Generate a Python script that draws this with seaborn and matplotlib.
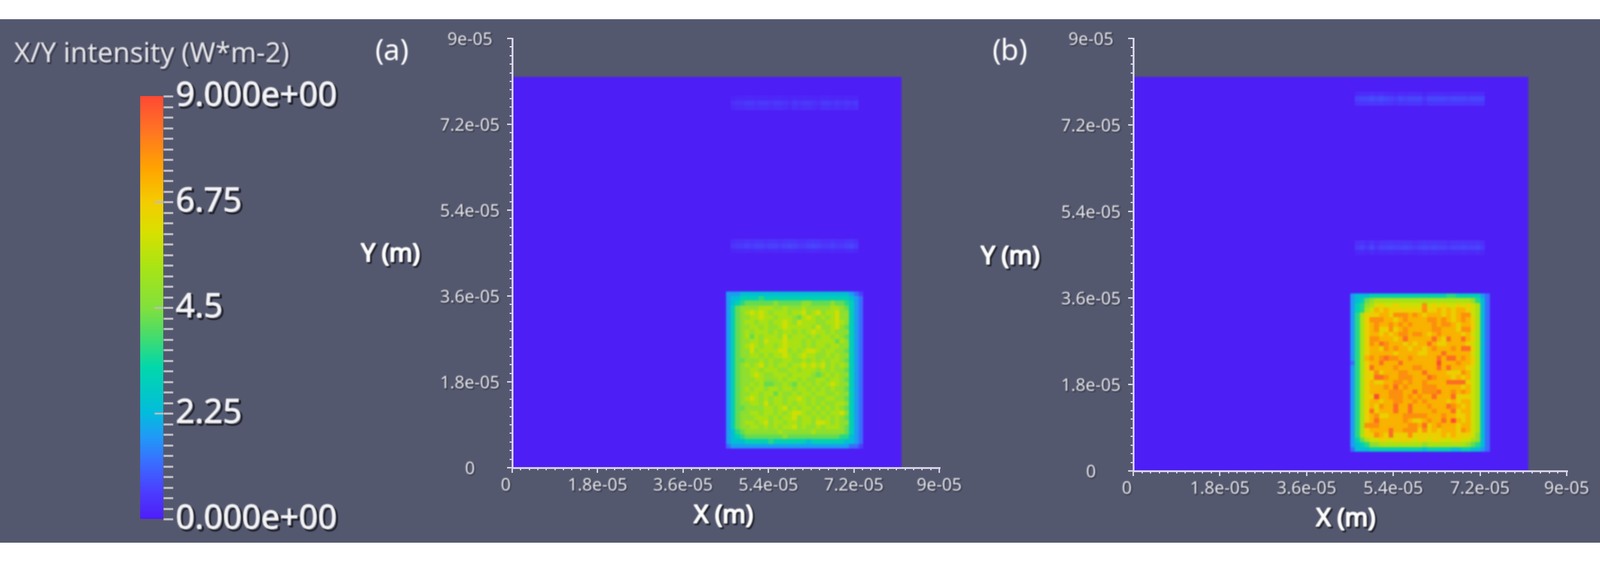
import numpy as np
import matplotlib
matplotlib.use("Agg")
import matplotlib.pyplot as plt
import matplotlib.patheffects as pe
from matplotlib.colors import LinearSegmentedColormap
from matplotlib.patches import Rectangle
from matplotlib.transforms import ScaledTranslation
import seaborn as sns

TITLE = "X/Y intensity (W*m-2)"
X_LABEL = "X (m)"
Y_LABEL = "Y (m)"
TICK_VALUES = [0, 18, 36, 54, 72, 90]
TICK_LABELS = ["0", "1.8e-05", "3.6e-05", "5.4e-05", "7.2e-05", "9e-05"]
CBAR_TICKS = [0, 2.25, 4.5, 6.75, 9]
CBAR_LABELS = ["0.000e+00", "2.25", "4.5", "6.75", "9.000e+00"]

# Hand-read cell levels of the bright block, top row first; one hex digit = 0.6 W/m2
PANEL_A_ROWS = [
    "33344 44444 44444 44444 44444 4321",
    "34455 55655 55555 55555 55555 5432",
    "34567 77777 87777 78877 77877 6532",
    "35788 88999 88988 89888 88998 7532",
    "35789 a9a98 99989 9a89a 899a8 8532",
    "35788 99a99 89998 79a98 989a8 8532",
    "35789 98998 99a98 a9998 899a9 8532",
    "35788 99898 89a99 9998a 889a8 7532",
    "35789 89998 98998 989a9 98988 8532",
    "35789 79899 98a89 99898 99898 7532",
    "35788 998a9 99a99 98989 99979 8532",
    "35789 a9899 89a99 98989 98998 8532",
    "35788 a8999 9aa89 89aa9 89988 7532",
    "35788 99898 99a98 9a998 89898 8532",
    "35778 88989 88998 89898 98998 7532",
    "35789 89a89 89989 9a9a9 a8989 8532",
    "35788 99899 98899 89998 98988 7532",
    "35788 9a988 99989 99987 89898 8532",
    "35788 89988 89899 89889 98998 7532",
    "35788 98977 88987 98989 89a98 8532",
    "35789 89989 98998 99898 98988 7532",
    "35788 99899 79889 89989 98898 8532",
    "35789 a9898 99899 a9898 89988 7532",
    "35788 998a8 99898 99898 98899 8532",
    "35778 88899 89a89 89989 89898 7532",
    "35788 99899 8989a a9898 9899a 8532",
    "35788 89998 9899a 89989 89898 7532",
    "35789 989a8 99899 8998a a9898 8532",
    "35788 99898 9899a 89889 89998 7532",
    "34678 88888 89888 88898 88888 7532",
    "34567 77777 77877 77777 77776 6432",
    "34445 55556 55555 55455 55555 4432",
    "23333 33333 33333 33333 33333 3221",
]
PANEL_B_ROWS = [
    "34445 55555 55555 55555 66555 5532",
    "34578 99999 99999 99999 99999 8642",
    "35689 abaab aaaaa dabab aabab a942",
    "3569a cbcbb bbbbb dbbcb cbccb a942",
    "369bb bccbd ddcdc bcccb cbcdd a942",
    "369bd ddccb cdccc cddcd cbcdc b942",
    "369bc dccdc dcdcc ccdcd dcbcc b942",
    "369bc dbbdb cdccc ccddc ccbdd b942",
    "369bc cbcbc ddcdd cbcdc cccbc a942",
    "369bd dcccb ceccc ccecb eccec b942",
    "369bd cedcc cbcbc cecbb ccccb a942",
    "369bc cbdcd ccbcc bcdcc cdcee b942",
    "369bc ccccb ccccb bccce ccccc a942",
    "369cd cdedd ccdcc cccec eecdc b942",
    "269bc ceccc ecccc cccfc ccdcc b942",
    "369be ccccd cccdd cccec ecccb a942",
    "369bb dbccc ddccc ecccc bbbdc a942",
    "369bb eedcc dddcc cedcc cbcbc a942",
    "369bc bbccd dcdcc dcccc eeeeb a942",
    "369bc ccdce cdccc dddcc cccbc a942",
    "369bc cccdd dccec dddec cdcdc a942",
    "369bb fccdd dcdcd ccecc cebbb a942",
    "369bc cbccd dccdc dcccc bcbcc a942",
    "369bc bdcce ccecc cdccc edcbc a942",
    "369be bccce ccecc ccdcc cebcc a942",
    "369bc dbbcc cdddd dcccd ccbbc a942",
    "369bc ecccc cdcbb cdcce cfcbc a942",
    "369dd dcccc ccddc ebcdc ccbcc a942",
    "369bc cccec cdddb dbcbc ccbdc a942",
    "369bb dcbeb bbdbb bbbbc bcbbb a842",
    "3579a abbab bbbab babba abbaa 9842",
    "34568 89999 99999 89999 99998 7642",
    "24445 55555 55555 45555 54455 4432",
]
# Faint stripes, W/m2, one value per column from column 46
A_STRIPE_TOP = [.3, .4, .4, .5, .5, .4, .5, .5, .4, .5, .5, .4, .3, .5, .4, .5, .5, .4, .3, .5, .5, .4, .5, .4, .5, .4, .5]
A_STRIPE_MID = [.4, .5, .5, .6, .5, .6, .6, .5, .6, .6, .5, .6, .7, .6, .5, .5, .6, .7, .6, .5, .5, .6, .5, .5, .6, .7, .5]
B_STRIPE_TOP = [.6, .7, .7, .8, .7, .8, .7, .6, .5, .7, .6, .7, .7, .7, .4, .7, .7, .7, .7, .6, .7, .7, .7, .6, .7, .7, .7]
B_STRIPE_MID = [.5, .6, .4, .7, .4, .6, .6, .7, .6, .6, .7, .6, .5, .6, .7, .6, .7, .6, .6, .5, .6, .6, .7, .6, .6, .7, .5]

COLOR_STOPS = [(0.0, "#4e1ef8"), (0.06, "#4c3cff"), (0.13, "#3a6cff"), (0.19, "#2198f8"),
               (0.25, "#02bcdd"), (0.36, "#02d8aa"), (0.44, "#4cdc66"), (0.5, "#82e03c"),
               (0.6, "#aae414"), (0.68, "#d8e000"), (0.75, "#f4cc00"), (0.83, "#ffa400"),
               (0.92, "#ff7422"), (1.0, "#ff4a34")]

W, H = 2499, 899
BG = "#54586f"
LIGHT = "#e8e8ec"
cmap = LinearSegmentedColormap.from_list("rainbow_pv", COLOR_STOPS)
sns.set_theme(style="white")
plt.rcParams["font.family"] = ["Noto Sans", "DejaVu Sans"]


def gaussian_blur(sigma):
    """agg filter softening an artist the way the upscaled source image is soft."""
    radius = int(3 * sigma + 1)
    kernel = np.exp(-0.5 * (np.arange(-radius, radius + 1) / sigma) ** 2)
    kernel /= kernel.sum()

    def smooth(a, axis):
        return np.apply_along_axis(lambda v: np.convolve(v, kernel, mode="same"), axis, a)

    def apply(img, dpi):
        img = np.pad(img, ((radius, radius), (radius, radius), (0, 0)))
        alpha = img[..., 3:]
        stack = np.concatenate([img[..., :3] * alpha, alpha], axis=2)
        for ch in range(4):
            stack[..., ch] = smooth(smooth(stack[..., ch], 0), 1)
        out_a = np.clip(stack[..., 3:], 1e-6, 1)
        out = np.concatenate([np.clip(stack[..., :3] / out_a, 0, 1), stack[..., 3:]], axis=2)
        return out, -radius, -radius

    return apply


def build_grid(rows, stripe_top, stripe_mid, top_row, mid_row):
    grid = np.full((90, 90), np.nan)
    grid[:82, :82] = 0.0
    for i, row in enumerate(rows):
        cells = row.replace(" ", "")
        assert len(cells) == 29, (i, len(cells))
        grid[36 - i, 45:74] = [int(c, 16) * 0.6 for c in cells]
    grid[top_row, 46:73] = stripe_top
    grid[top_row - 1, 46:73] = np.array(stripe_top) * 0.65
    grid[top_row + 1, 46:73] = np.array(stripe_top) * 0.4
    grid[mid_row, 46:73] = stripe_mid
    grid[mid_row + 1, 46:73] = np.array(stripe_mid) * 0.65
    grid[mid_row - 1, 46:73] = np.array(stripe_mid) * 0.4
    return grid


def px_axes(fig, left, top, right, bottom):
    return fig.add_axes([left / W, 1 - bottom / H, (right - left) / W, (bottom - top) / H])


def shadow(alpha=0.65, off=(1.5, -1.5), fat=0.0, fat_color="white"):
    effects = [pe.SimpleLineShadow(offset=off, shadow_color="black", alpha=alpha, linewidth=fat + 0.8)]
    if fat:
        effects.append(pe.Stroke(linewidth=fat, foreground=fat_color))
    effects.append(pe.Normal())
    return effects


text_blur = gaussian_blur(0.9)

fig = plt.figure(figsize=(W / 100, H / 100), dpi=100, facecolor="white")
fig.add_artist(Rectangle((0, 1 - 847 / H), 1, (847 - 30) / H, transform=fig.transFigure,
                         facecolor=BG, edgecolor="none", zorder=-5))
t = fig.text(22 / W, 1 - 86 / H, TITLE, color=LIGHT, fontsize=31, va="center", ha="left",
             path_effects=shadow())
t.set_agg_filter(text_blur)

cax = px_axes(fig, 219, 150, 255, 810)
panels = [
    dict(box=(800, 60, 1467, 730), rows=PANEL_A_ROWS, top=A_STRIPE_TOP, mid=A_STRIPE_MID,
         top_row=76, mid_row=46, tag="(a)", tag_xy=(612, 82), y_xy=(610, 398), x_xy=(1130, 806), cbar=True),
    dict(box=(1770, 60, 2447, 735), rows=PANEL_B_ROWS, top=B_STRIPE_TOP, mid=B_STRIPE_MID,
         top_row=77, mid_row=46, tag="(b)", tag_xy=(1577, 82), y_xy=(1578, 402), x_xy=(2102, 811), cbar=False),
]

for p in panels:
    ax = px_axes(fig, *p["box"])
    ax.patch.set_alpha(0)
    grid = build_grid(p["rows"], p["top"], p["mid"], p["top_row"], p["mid_row"])
    sns.heatmap(grid, ax=ax, cmap=cmap, vmin=0, vmax=9, cbar=p["cbar"],
                cbar_ax=cax if p["cbar"] else None,
                cbar_kws={"ticks": CBAR_TICKS} if p["cbar"] else None,
                xticklabels=False, yticklabels=False)
    ax.collections[0].set_agg_filter(gaussian_blur(1.4))
    ax.set_xlim(0, 90)
    ax.set_ylim(0, 90)
    for side in ("top", "right"):
        ax.spines[side].set_visible(False)
    for side in ("left", "bottom"):
        ax.spines[side].set_visible(True)
        ax.spines[side].set_color("#dcd8f0")
        ax.spines[side].set_linewidth(2)
    ax.set_xticks(TICK_VALUES)
    ax.set_yticks(TICK_VALUES)
    ax.set_xticks(np.arange(0, 90.1, 1.8), minor=True)
    ax.set_yticks(np.arange(0, 90.1, 1.8), minor=True)
    ax.set_xticklabels(TICK_LABELS, rotation=0, ha="center")
    ax.set_yticklabels(TICK_LABELS, rotation=0, ha="center", va="center")
    ax.tick_params(which="major", length=5.5, width=1.6, color="#dcdce4", bottom=True, left=True,
                   labelbottom=True, labelleft=True, labelcolor=LIGHT, labelsize=19.5)
    ax.tick_params(which="minor", length=3, width=1.4, color="#dcdce4", bottom=True, left=True)
    ax.tick_params(axis="x", which="major", pad=5)
    ax.tick_params(axis="y", which="major", pad=42)
    ydown = ScaledTranslation(0, -3 / 100, fig.dpi_scale_trans)
    for lab in ax.get_xticklabels():
        lab.set_path_effects(shadow(0.5, (1, -1)))
        lab.set_agg_filter(text_blur)
    for lab in ax.get_yticklabels():
        lab.set_path_effects(shadow(0.5, (1, -1)))
        lab.set_agg_filter(text_blur)
        lab.set_transform(lab.get_transform() + ydown)
    zero = ax.get_xticklabels()[0]
    zero.set_transform(zero.get_transform() + ScaledTranslation(-10 / 100, 0, fig.dpi_scale_trans))
    t = fig.text(p["tag_xy"][0] / W, 1 - p["tag_xy"][1] / H, p["tag"], color="white", fontsize=33,
                 ha="center", va="center")
    t.set_agg_filter(text_blur)
    for label, xy in ((Y_LABEL, p["y_xy"]), (X_LABEL, p["x_xy"])):
        t = fig.text(xy[0] / W, 1 - xy[1] / H, label, color="white", fontsize=28,
                     ha="center", va="center", path_effects=shadow(fat=1.6))
        t.set_agg_filter(text_blur)

cbar = fig.axes[1].collections[0].colorbar
cbar.outline.set_visible(False)
cax.yaxis.set_ticks_position("right")
cbar.set_ticks(CBAR_TICKS, labels=CBAR_LABELS)
cax.set_yticks(np.arange(0, 9.01, 0.225), minor=True)
cax.tick_params(which="both", right=True, length=11, width=2.4, color="#bdbdc4")
cax.tick_params(which="major", labelsize=37.5, labelcolor="#f6f6f8", pad=3)
cax.hlines(CBAR_TICKS[1:4], 0.62, 1.0, transform=cax.get_yaxis_transform(), color="#bdbdc4", lw=2.0)
shift = ScaledTranslation(0, 5 / 100, fig.dpi_scale_trans)
for lab in cax.get_yticklabels():
    lab.set_transform(lab.get_transform() + shift)
    lab.set_path_effects(shadow(0.8, (2, -2), fat=0.8, fat_color="#f6f6f8"))
    lab.set_agg_filter(text_blur)

fig.savefig("out.png", dpi=100, facecolor="white")
